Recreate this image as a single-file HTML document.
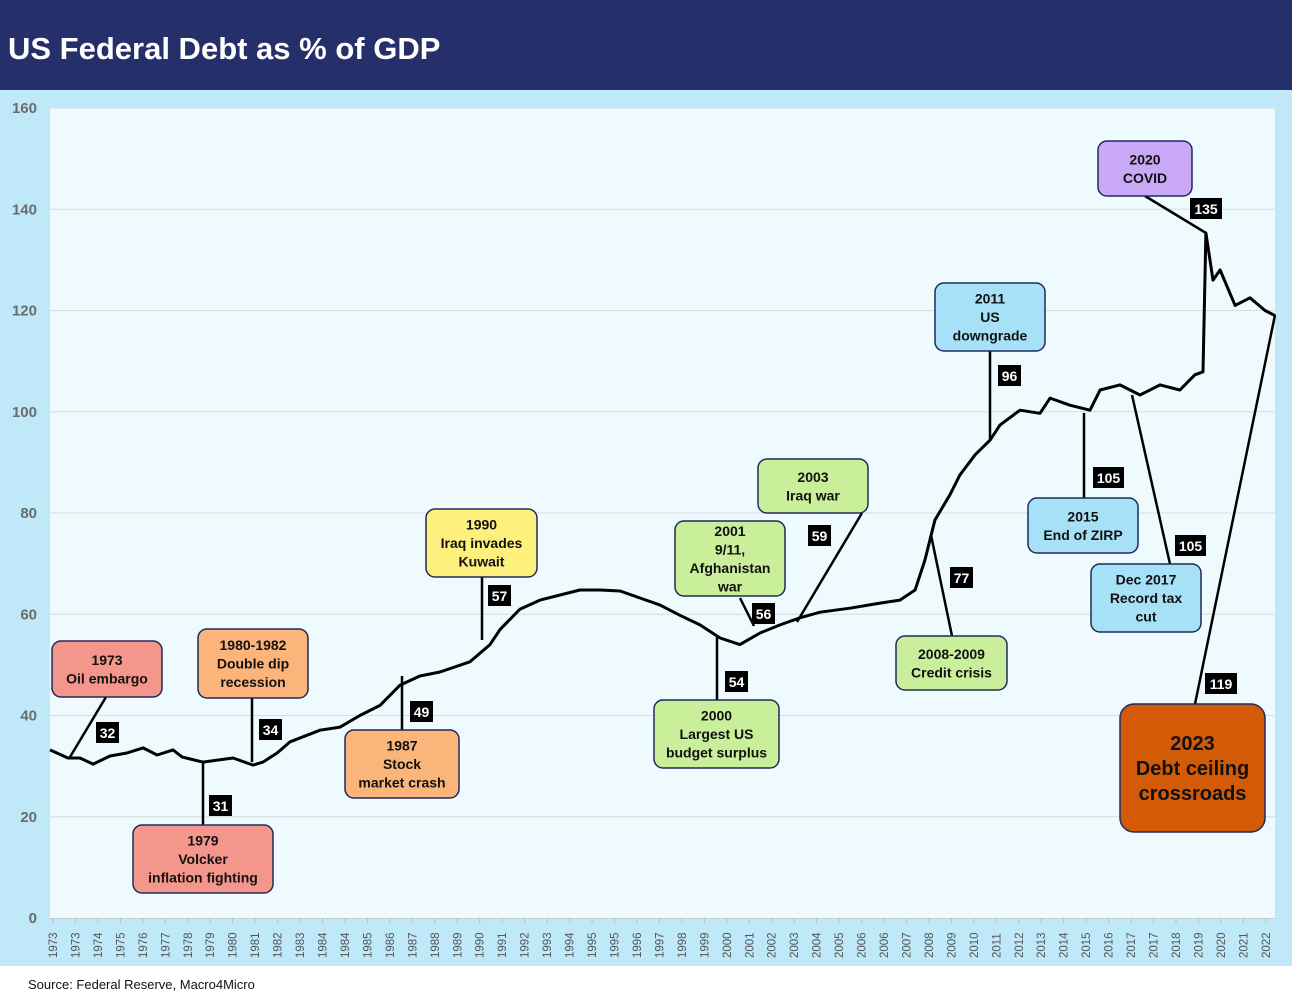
<!DOCTYPE html>
<html><head><meta charset="utf-8"><style>
body{margin:0;width:1292px;height:1000px;overflow:hidden;background:#fff;font-family:"Liberation Sans",sans-serif}
svg{display:block}
</style></head><body>
<svg id="chart" width="1292" height="1000" xmlns="http://www.w3.org/2000/svg">
<rect x="0" y="0" width="1292" height="90" fill="#25306b"/>
<text x="8" y="59" fill="#fff" font-size="31" font-weight="bold" font-family="Liberation Sans, sans-serif">US Federal Debt as % of GDP</text>
<rect x="0" y="90" width="1292" height="875" fill="#bfe9f8"/>
<rect x="50" y="108" width="1225" height="810" fill="#eefafd"/>
<g id="grid"></g><g id="yaxis"></g><g id="xaxis"></g>
<g id="series"></g>
<g id="annos"></g>
<line x1="0" y1="965.5" x2="1292" y2="965.5" stroke="#ddd"/>
<text x="28" y="989" font-size="13" fill="#111">Source: Federal Reserve, Macro4Micro</text>
</svg>
<script>
const years=[1973.00,1973.73,1974.22,1974.76,1975.45,1976.14,1976.8,1977.37,1978.02,1978.39,1979.24,1980.47,1981.29,1981.69,1982.27,1982.8,1984.02,1984.84,1985.65,1986.47,1987.29,1988.1,1988.92,1990.14,1990.96,1991.37,1992.18,1993.0,1993.82,1994.63,1995.45,1996.27,1997.08,1997.9,1998.71,1999.53,2000.35,2001.16,2001.98,2002.8,2003.61,2004.43,2005.65,2006.88,2007.69,2008.31,2008.71,2009.12,2009.73,2010.14,2010.76,2011.37,2011.78,2012.59,2013.41,2013.82,2014.63,2015.45,2015.86,2016.67,2017.49,2018.31,2019.12,2019.73,2020.06,2020.18,2020.47,2020.76,2021.37,2021.98,2022.59,2023.0];
const debtPct=[33.2,31.6,31.6,30.4,32.0,32.6,33.6,32.2,33.2,31.8,30.8,31.6,30.2,30.8,32.6,34.8,37.1,37.7,40,42,46,47.8,48.6,50.6,54,57,61,62.8,63.8,64.8,64.8,64.6,63.2,61.8,59.8,57.9,55.3,54,56.3,57.9,59.3,60.4,61.2,62.2,62.8,64.8,70.7,78.6,83.6,87.5,91.5,94.4,97.4,100.3,99.7,102.7,101.3,100.3,104.3,105.3,103.3,105.3,104.3,107.3,107.9,135.3,126,128,121,122.5,120,119];
const yTicks=[0,20,40,60,80,100,120,140,160];
const xLabels=["1973","1973","1974","1975","1976","1977","1978","1979","1980","1981","1982","1983","1984","1984","1985","1986","1987","1988","1989","1990","1991","1992","1993","1994","1995","1995","1996","1997","1998","1999","2000","2001","2002","2003","2004","2005","2006","2006","2007","2008","2009","2010","2011","2012","2013","2014","2015","2016","2017","2017","2018","2019","2020","2021","2022"];
const NS="http://www.w3.org/2000/svg";
const X=y=>50+(y-1973)*24.5;
const Y=v=>918-v*5.0625;
const LX=i=>53+i*22.46;
function mk(tag,attrs,parent,txt){const e=document.createElementNS(NS,tag);for(const k in attrs)e.setAttribute(k,attrs[k]);if(txt!==undefined)e.textContent=txt;parent.appendChild(e);return e;}
const grid=document.getElementById('grid'),ya=document.getElementById('yaxis'),xa=document.getElementById('xaxis');
yTicks.forEach(t=>{
  if(t>0){const g=mk('line',{x1:50,x2:1275,y1:Y(t),y2:Y(t),stroke:'#d4dde0','stroke-width':1},grid);
  
  }
  const l=mk('text',{x:37,y:Y(t)+5,'text-anchor':'end','font-size':15,'font-weight':'bold',fill:'#6b6b6b'},ya,String(t));
  
  
});
mk('line',{x1:50,x2:1275,y1:918.5,y2:918.5,stroke:'#ccc'},xa);
xLabels.forEach((s,i)=>{
  const x=LX(i);
  mk('line',{x1:x,x2:x,y1:918,y2:923,stroke:'#bbb'},xa);
  const t=mk('text',{x:0,y:0,transform:`translate(${x+4},${958}) rotate(-90)`,'font-size':11.5,fill:'#555'},xa,s);
  
  
});
const pts=years.map((y,i)=>X(y).toFixed(1)+','+Y(debtPct[i]).toFixed(1)).join(' ');
const line=mk('polyline',{points:pts,fill:'none',stroke:'#000','stroke-width':3,'stroke-linejoin':'round'},document.getElementById('series'));



const annos=[
 {n:'1973-oil-embargo',b:[52,641,110,56],f:'#f4968b',t:['1973','Oil embargo'],l:[70,757,106,697],v:'32',vb:[96,722]},
 {n:'1979-volcker',b:[133,825,140,68],f:'#f4968b',t:['1979','Volcker','inflation fighting'],l:[203,762,203,825],v:'31',vb:[209,795]},
 {n:'1980-1982-recession',b:[198,629,110,69],f:'#fbb57a',t:['1980-1982','Double dip','recession'],l:[252,698,252,762],v:'34',vb:[259,719]},
 {n:'1987-stock-crash',b:[345,730,114,68],f:'#fbb57a',t:['1987','Stock','market crash'],l:[402,676,402,730],v:'49',vb:[410,701]},
 {n:'1990-iraq-kuwait',b:[426,509,111,68],f:'#fdf07c',t:['1990','Iraq invades','Kuwait'],l:[482,577,482,640],v:'57',vb:[488,585]},
 {n:'2000-surplus',b:[654,700,125,68],f:'#c9ef9b',t:['2000','Largest US','budget surplus'],l:[717,636,717,700],v:'54',vb:[725,671]},
 {n:'2001-9-11',b:[675,521,110,75],f:'#c9ef9b',t:['2001','9/11,','Afghanistan','war'],l:[740,598,754,626],v:'56',vb:[752,603]},
 {n:'2003-iraq-war',b:[758,459,110,54],f:'#c9ef9b',t:['2003','Iraq war'],l:[862,513,797,622],v:'59',vb:[808,525]},
 {n:'2008-credit-crisis',b:[896,636,111,54],f:'#c9ef9b',t:['2008-2009','Credit crisis'],l:[931,535,952,636],v:'77',vb:[950,567]},
 {n:'2011-downgrade',b:[935,283,110,68],f:'#a7e1f7',t:['2011','US','downgrade'],l:[990,351,990,440],v:'96',vb:[998,365]},
 {n:'2015-end-of-zirp',b:[1028,498,110,55],f:'#a7e1f7',t:['2015','End of ZIRP'],l:[1084,413,1084,498],v:'105',vb:[1093,467],w:31},
 {n:'2017-tax-cut',b:[1091,564,110,68],f:'#a7e1f7',t:['Dec 2017','Record tax','cut'],l:[1132,395,1170,564],v:'105',vb:[1175,535],w:31},
 {n:'2020-covid',b:[1098,141,94,55],f:'#c9a8f5',t:['2020','COVID'],l:[1145,196,1206,233],v:'135',vb:[1190,198],w:32},
 {n:'2023-debt-ceiling',b:[1120,704,145,128],f:'#d35a06',t:['2023','Debt ceiling','crossroads'],l:[1195,704,1275,315],v:'119',vb:[1205,673],w:32,big:1}
];
const ag=document.getElementById('annos');
annos.forEach(a=>{
  const g=mk('g',{},ag);
  
  
  mk('line',{x1:a.l[0],y1:a.l[1],x2:a.l[2],y2:a.l[3],stroke:'#000','stroke-width':2.5},g);
  const [bx,by,bw,bh]=a.b;
  mk('rect',{x:bx,y:by,width:bw,height:bh,rx:a.big?14:9,fill:a.f,stroke:'#1e2a5a','stroke-width':1.5},g);
  const fs=a.big?20:14, lh=a.big?25:18.5;
  const n=a.t.length, cy=by+bh/2-(n-1)*lh/2+fs*0.36;
  a.t.forEach((s,i)=>mk('text',{x:bx+bw/2,y:cy+i*lh,'text-anchor':'middle','font-size':fs,'font-weight':'bold',fill:'#111'},g,s));
  const w=a.w||23;
  mk('rect',{x:a.vb[0],y:a.vb[1],width:w,height:21,fill:'#000'},g);
  mk('text',{x:a.vb[0]+w/2,y:a.vb[1]+16,'text-anchor':'middle','font-size':14,'font-weight':'bold',fill:'#fff'},g,a.v);
});
</script>
</body></html>
